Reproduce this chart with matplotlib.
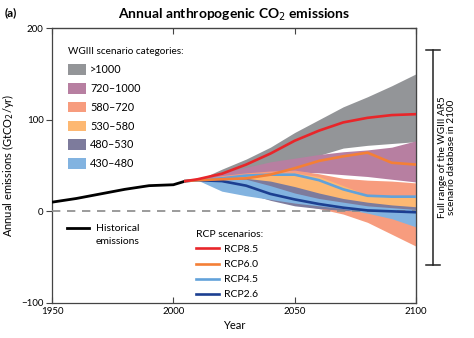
import matplotlib
matplotlib.use("Agg")
import matplotlib.pyplot as plt
import matplotlib.patches as mpatches
import matplotlib.lines as mlines
import matplotlib.transforms as mtransforms
import numpy as np

plt.rcParams['font.family'] = ['Lato', 'DejaVu Sans']

# ---------------- data ----------------
hist_years = [1950, 1960, 1970, 1980, 1990, 2000, 2005]
hist_values = [10, 14, 19, 24, 28, 29, 33]

proj_years = [2005, 2010, 2020, 2030, 2040, 2050, 2060, 2070, 2080, 2090, 2100]

rcp85 = [33, 35, 41, 51, 63, 77, 88, 97, 102, 105, 106]
rcp60 = [33, 34, 35, 36, 40, 47, 55, 60, 64, 53, 51]
rcp45 = [33, 34, 36, 39, 40, 40, 34, 24, 17, 16, 16]
rcp26 = [33, 34, 33, 28, 19, 13, 8, 4, 1, 0, -1]

band_years = [2010, 2020, 2030, 2040, 2050, 2060, 2070, 2080, 2090, 2100]
cat_labels = [">1000", "720\u20131000", "580\u2013720", "530\u2013580", "480\u2013530", "430\u2013480"]
cat_lower = {
    ">1000":     [34, 38, 42, 48, 56, 61, 69, 72, 74, 76],
    "720\u20131000": [34, 38, 40, 42, 43, 42, 40, 38, 35, 32],
    "580\u2013720":  [34, 30, 22, 15, 8, 3, -3, -12, -25, -38],
    "530\u2013580":  [34, 32, 26, 18, 12, 8, 5, 3, 2, 1],
    "480\u2013530":  [34, 30, 20, 12, 6, 3, 1, 0, -1, -2],
    "430\u2013480":  [34, 22, 17, 13, 9, 6, 3, -2, -8, -17],
}
cat_upper = {
    ">1000":     [34, 46, 57, 70, 86, 100, 114, 125, 137, 150],
    "720\u20131000": [34, 42, 48, 54, 58, 62, 65, 67, 70, 77],
    "580\u2013720":  [34, 39, 42, 44, 45, 41, 36, 34, 33, 31],
    "530\u2013580":  [34, 37, 40, 42, 42, 38, 28, 18, 16, 15],
    "480\u2013530":  [34, 36, 36, 33, 27, 20, 14, 10, 7, 5],
    "430\u2013480":  [34, 36, 35, 28, 20, 14, 10, 6, 4, 2],
}
cat_colors = ["#939598", "#b77fa1", "#f79c7e", "#fdb872", "#7d7b9c", "#82b3e0"]

rcp_labels = ["RCP8.5", "RCP6.0", "RCP4.5", "RCP2.6"]
rcp_colors = ["#e8262a", "#f47f36", "#62a2da", "#1c3f91"]

range_2100 = [-58, 176]

# ---------------- figure ----------------
fig = plt.figure(figsize=(4.74, 3.38), dpi=100)
ax = fig.add_axes([52/474, 1-303/338, 364/474, 275/338])

for lab, col in zip(cat_labels, cat_colors):
    ax.fill_between(band_years, cat_lower[lab], cat_upper[lab], color=col, lw=0, zorder=2)

ax.axhline(0, color="#8a8a8a", lw=1.2, ls=(0, (5, 4)), zorder=3)

ax.plot(hist_years, hist_values, color="black", lw=2.0, zorder=5, solid_capstyle='butt')
for vals, col in zip([rcp26, rcp45, rcp60, rcp85], rcp_colors[::-1]):
    ax.plot(proj_years, vals, color=col, lw=1.9, zorder=6)

ax.set_xlim(1950, 2100)
ax.set_ylim(-100, 200)
ax.set_xticks([1950, 2000, 2050, 2100])
ax.set_yticks([-100, 0, 100, 200])
ax.tick_params(axis='x', direction='in', length=4, labelsize=7, pad=3, color="#444444")
ax.tick_params(axis='y', direction='out', length=4, labelsize=7, pad=2, color="#444444")
for s in ax.spines.values():
    s.set_color("#444444")
    s.set_linewidth(0.9)

secx = ax.secondary_xaxis('top')
secx.set_xticks([1950, 2000, 2050, 2100])
secx.tick_params(direction='in', length=4, labeltop=False, color="#444444")
secy = ax.secondary_yaxis('right')
secy.set_yticks([-100, 0, 100, 200])
secy.tick_params(direction='in', length=4, labelright=False, color="#444444")

ax.set_xlabel("Year", fontsize=8, labelpad=3)
ax.set_ylabel("Annual emissions (GtCO$_2$/yr)", fontsize=8, labelpad=4)
ax.set_title("Annual anthropogenic CO$_2$ emissions", fontsize=10, fontweight='bold', pad=7)
fig.text(5/474, 1-13/338, "(a)", fontsize=8.5, fontweight='bold', va='center', ha='left')

# category legend
cat_handles = [mpatches.Patch(facecolor=c, edgecolor='none') for c in cat_colors]
leg1 = ax.legend(cat_handles, cat_labels, title="WGIII scenario categories:",
                 loc='upper left', bbox_to_anchor=(0.045, 0.93), frameon=False,
                 prop={'size': 7.8}, title_fontsize=7.2, handlelength=1.6, handleheight=1.15,
                 handletextpad=0.4, labelspacing=0.72, borderpad=0, borderaxespad=0,
                 alignment='left')
ax.add_artist(leg1)

# historical legend
hist_handle = [mlines.Line2D([], [], color='black', lw=2.0)]
leg2 = ax.legend(hist_handle, ["Historical"], loc='upper left',
                 bbox_to_anchor=(0.04, 0.287), frameon=False, fontsize=7.5,
                 handlelength=2.2, handletextpad=0.6, borderpad=0, borderaxespad=0)
ax.add_artist(leg2)

# RCP legend
rcp_handles = [mlines.Line2D([], [], color=c, lw=1.9) for c in rcp_colors]
leg3 = ax.legend(rcp_handles, rcp_labels, title="RCP scenarios:", loc='upper left',
                 bbox_to_anchor=(0.395, 0.265), frameon=False, prop={'size': 7.5},
                 title_fontsize=7.5, handlelength=2.2, handletextpad=0.5,
                 labelspacing=0.55, borderpad=0, borderaxespad=0, alignment='left')

# second line of the historical legend label, aligned under "Historical"
fig.canvas.draw()
bb = leg2.get_texts()[0].get_window_extent()
x0, y0 = ax.transAxes.inverted().transform((bb.x0, bb.y0))
ax.text(x0, y0 - 0.012, "emissions", transform=ax.transAxes, fontsize=7.5,
        ha='left', va='top')

# full range bracket
trans = mtransforms.blended_transform_factory(ax.transAxes, ax.transData)
bx = (433 - 52) / 364
cap = 7 / 364
ax.plot([bx, bx], range_2100, transform=trans, color='#222222', lw=1.1, clip_on=False)
for yv in range_2100:
    ax.plot([bx - cap, bx + cap], [yv, yv], transform=trans, color='#222222', lw=1.1, clip_on=False)
ax.text((447 - 52) / 364, np.mean(range_2100), "Full range of the WGIII AR5\nscenario database in 2100",
        transform=trans, rotation=90, ha='center', va='center', fontsize=7.2, linespacing=1.1)

fig.savefig("out.png", dpi=100)
